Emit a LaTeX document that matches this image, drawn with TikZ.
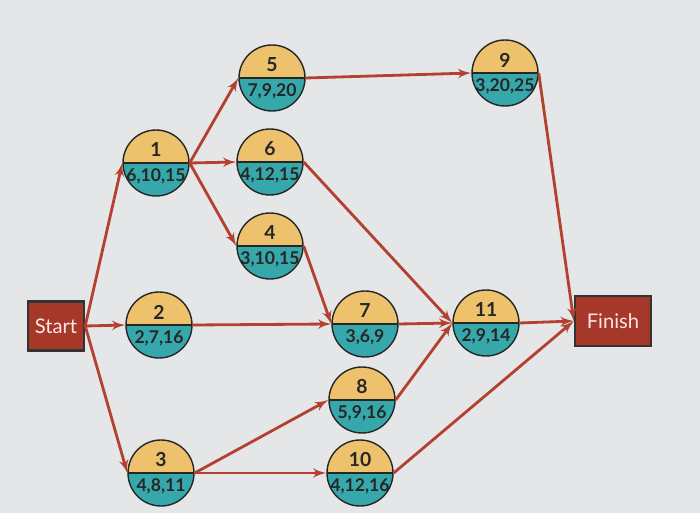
\documentclass[tikz,border=0pt]{standalone}
\usepackage{fontspec}
\setmainfont{Lato}
\usepackage{xcolor}
\usepackage{tikz}
\usetikzlibrary{arrows}

\definecolor{actyellow}{HTML}{EEC26C}
\definecolor{actteal}{HTML}{36A8AB}
\definecolor{arrred}{HTML}{B4412F}
\definecolor{boxred}{HTML}{A53828}
\definecolor{paper}{HTML}{E5E6E8}

\tikzset{
  act/.style={circle, draw=black!85, line width=0.8pt, minimum size=1.32cm, inner sep=0pt,
    path picture={
      \fill[actyellow] (path picture bounding box.north west) rectangle (path picture bounding box.east);
      \fill[actteal] (path picture bounding box.west) rectangle (path picture bounding box.south east);
      \draw[black!85, line width=0.9pt] (path picture bounding box.west) -- (path picture bounding box.east);
    }},
  endbox/.style={draw=black!80, line width=1.4pt, fill=boxred, text=white!90!red,
    font=\fontsize{11.5}{12}\selectfont, inner sep=0pt},
  arr/.style={->, >=latex', arrred, line width=1.6pt}
}

% activity: name, position, number, times
\newcommand{\activity}[4]{
  \node[act] (#1) at (#2) {};
  \node[font=\bfseries\fontsize{11}{12}\selectfont, text=black!85] at ([yshift=0.26cm]#1.center) {#3};
  \node[font=\bfseries\fontsize{10}{11}\selectfont, text=black!85] at ([yshift=-0.27cm]#1.center) {#4};
}

\begin{document}
\begin{tikzpicture}[x=0.02cm, y=-0.02cm]
    \fill[paper] (0,0) rectangle (700,513);
    \useasboundingbox (0,0) rectangle (700,513);

    \node[endbox, minimum width=1.12cm, minimum height=0.98cm] (start) at (56,326) {Start};
    \node[endbox, minimum width=1.52cm, minimum height=1.0cm] (finish) at (613,321) {Finish};

    \activity{a1}{156,163}{1}{6,10,15}
    \activity{a2}{159,325}{2}{2,7,16}
    \activity{a3}{161,473}{3}{4,8,11}
    \activity{a4}{270,246}{4}{3,10,15}
    \activity{a5}{272,78}{5}{7,9,20}
    \activity{a6}{270,162}{6}{4,12,15}
    \activity{a7}{365,324}{7}{3,6,9}
    \activity{a8}{362,400}{8}{5,9,16}
    \activity{a9}{505,73}{9}{3,20,25}
    \activity{a10}{360,473}{10}{4,12,16}
    \activity{a11}{486,323}{11}{2,9,14}

    \foreach \to in {a1,a2,a3}
      \draw[arr] (start.east) -- (\to.west);
    \foreach \to in {a5,a6,a4}
      \draw[arr] (a1.east) -- (\to.west);
    \draw[arr] (a5.east) -- (a9.west);
    \draw[arr] (a6.east) -- (a11.west);
    \draw[arr] (a4.east) -- (a7.west);
    \draw[arr] (a2.east) -- (a7.west);
    \draw[arr] (a7.east) -- (a11.west);
    \draw[arr] (a3.east) -- (a8.west);
    \draw[arr] (a3.east) -- (a10.west);
    \draw[arr] (a8.east) -- (a11.west);
    \foreach \from in {a9,a11,a10}
      \draw[arr] (\from.east) -- (finish.west);
  \end{tikzpicture}
\end{document}
